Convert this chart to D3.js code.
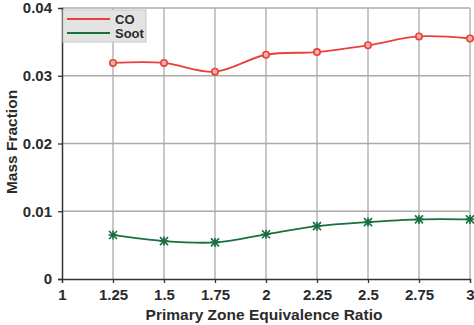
<!DOCTYPE html>
<html><head><meta charset="utf-8">
<script src="https://cdn.jsdelivr.net/npm/d3@7"></script>
<style>body{margin:0;background:#fff}svg{display:block}</style>
</head><body>
<script>
const xValues = [1.25, 1.5, 1.75, 2, 2.25, 2.5, 2.75, 3];
const coValues = [0.0319, 0.0319, 0.0306, 0.0331, 0.0335, 0.0345, 0.0358, 0.0355];
const sootValues = [0.0065, 0.0056, 0.0054, 0.0066, 0.0078, 0.0084, 0.0088, 0.0088];
const xTicks = [1, 1.25, 1.5, 1.75, 2, 2.25, 2.5, 2.75, 3];
const xTickLabels = ["1", "1.25", "1.5", "1.75", "2", "2.25", "2.5", "2.75", "3"];
const yTicks = [0, 0.01, 0.02, 0.03, 0.04];
const yTickLabels = ["0", "0.01", "0.02", "0.03", "0.04"];
const seriesNames = ["CO", "Soot"];
const colors = ["#e8413c", "#17703e"];

const W = 474, H = 325;
const svg = d3.select("body").append("svg").attr("width", W).attr("height", H);
const x = d3.scaleLinear().domain([1, 3]).range([62, 470]);
const y = d3.scaleLinear().domain([0, 0.04]).range([279, 8]);
const font = "'Liberation Sans', Arial, sans-serif";

// grid
svg.append("g").selectAll("line").data(xTicks.slice(1)).join("line")
  .attr("x1", d => x(d)).attr("x2", d => x(d)).attr("y1", y(0)).attr("y2", y(0.04))
  .attr("stroke", "#ababab").attr("stroke-width", 1.3);
svg.append("g").selectAll("line").data(yTicks.slice(1)).join("line")
  .attr("x1", x(1)).attr("x2", x(3)).attr("y1", d => y(d)).attr("y2", d => y(d))
  .attr("stroke", "#ababab").attr("stroke-width", 1.3);

// axes
const xAxis = d3.axisBottom(x).tickValues(xTicks).tickFormat((d, i) => xTickLabels[i]).tickSize(4).tickPadding(6);
const gx = svg.append("g").attr("transform", `translate(0,${y(0)})`).call(xAxis);
const yAxis = d3.axisLeft(y).tickValues(yTicks).tickFormat((d, i) => yTickLabels[i]).tickSize(4).tickPadding(6);
const gy = svg.append("g").attr("transform", `translate(${x(1)},0)`).call(yAxis);
[gx, gy].forEach(g => {
  g.select(".domain").attr("stroke", "#333").attr("stroke-width", 1.5);
  g.selectAll(".tick line").attr("stroke", "#333").attr("stroke-width", 1.3);
  g.selectAll("text").attr("font-family", font).attr("font-weight", "bold").attr("font-size", 15).attr("fill", "#2b2b2b");
});
gx.selectAll(".tick").filter(d => d === 1 || d === 3).select("line").remove();
gy.selectAll(".tick").filter(d => d === 0.04).select("line").remove();

// titles
svg.append("text").attr("x", 264).attr("y", 320).attr("text-anchor", "middle")
  .attr("font-family", font).attr("font-weight", "bold").attr("font-size", 15.5).attr("fill", "#2b2b2b")
  .text("Primary Zone Equivalence Ratio");
svg.append("text").attr("transform", "translate(17,142) rotate(-90)").attr("text-anchor", "middle")
  .attr("font-family", font).attr("font-weight", "bold").attr("font-size", 15.5).attr("fill", "#2b2b2b")
  .text("Mass Fraction");

// lines
const line = d3.line().x(d => x(d[0])).y(d => y(d[1])).curve(d3.curveCatmullRom.alpha(0.5));
const coData = xValues.map((v, i) => [v, coValues[i]]);
const sootData = xValues.map((v, i) => [v, sootValues[i]]);
svg.append("path").datum(coData).attr("d", line).attr("fill", "none").attr("stroke", colors[0]).attr("stroke-width", 1.8);
svg.append("path").datum(sootData).attr("d", line).attr("fill", "none").attr("stroke", colors[1]).attr("stroke-width", 1.8);

// markers
svg.append("g").selectAll("circle").data(coData).join("circle")
  .attr("cx", d => x(d[0])).attr("cy", d => y(d[1])).attr("r", 3.2)
  .attr("fill", "#f6b0a8").attr("stroke", colors[0]).attr("stroke-width", 1.6);
const star = svg.append("g").selectAll("g").data(sootData).join("g")
  .attr("transform", d => `translate(${x(d[0])},${y(d[1])})`);
star.append("path").attr("d", "M-4,-4L4,4M-4,4L4,-4M0,-4.5L0,4.5M-4.5,0L4.5,0")
  .attr("stroke", colors[1]).attr("stroke-width", 1.6);

// legend
const lg = svg.append("g");
lg.append("rect").attr("x", 63).attr("y", 10).attr("width", 83).attr("height", 32)
  .attr("fill", "#e3e3e3").attr("stroke", "#c8c8c8");
seriesNames.forEach((n, i) => {
  const yy = 19 + i * 14;
  lg.append("line").attr("x1", 67).attr("x2", 110).attr("y1", yy).attr("y2", yy)
    .attr("stroke", colors[i]).attr("stroke-width", 1.8);
  lg.append("text").attr("x", 115).attr("y", yy + 4.5).attr("font-family", font).attr("font-weight", "bold")
    .attr("font-size", 13).attr("fill", "#2b2b2b").text(n);
});
</script>
</body></html>
